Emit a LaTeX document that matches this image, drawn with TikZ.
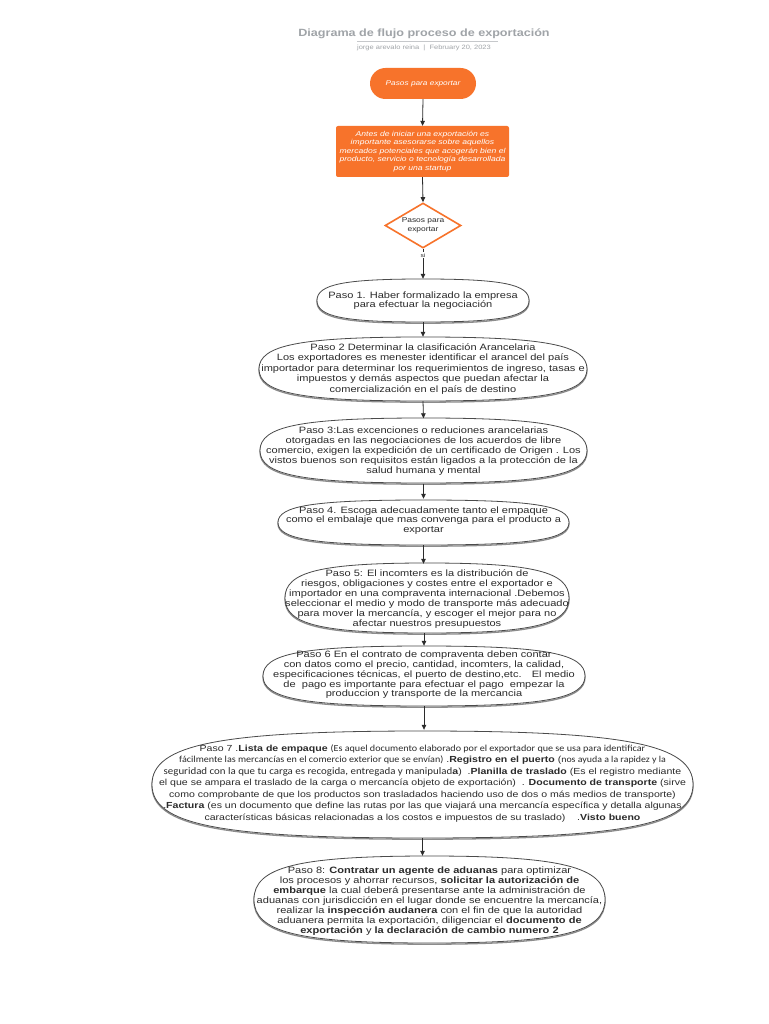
\documentclass[tikz,border=0pt]{standalone}
\usepackage{fontspec}
\setmainfont{Liberation Sans}[FakeStretch=1.2]
\newfontfamily\smallfam{Carlito}[FakeStretch=1.1]
\usetikzlibrary{shapes.geometric,arrows.meta}
\definecolor{org}{HTML}{F7732B}
\definecolor{ttl}{HTML}{A0A4A8}
\definecolor{ink}{HTML}{2B2B2B}
% full ellipse-like outline: #1 options, #2 centre, #3 half width, #4 half height
\newcommand\stepoutline[4]{%
  \path[#1,shift={#2}] ({#3},0) .. controls ({#3},{0.75*#4}) and ({0.75*#3},{#4}) .. (0,{#4})
    .. controls ({-0.75*#3},{#4}) and ({-#3},{0.75*#4}) .. ({-#3},0)
    .. controls ({-#3},{-0.75*#4}) and ({-0.75*#3},{-#4}) .. (0,{-#4})
    .. controls ({0.75*#3},{-#4}) and ({#3},{-0.75*#4}) .. cycle;}
\newcommand\stepshape[3]{%
  \stepoutline{draw=black!45, line width=1.3pt, yshift=-1.2pt}{#1}{#2}{#3}%
  \stepoutline{draw=ink!85, line width=0.8pt, fill=white}{#1}{#2}{#3}}
\begin{document}
\begin{tikzpicture}[x=1pt,y=-1pt,
  txt/.style={align=center, text=ink, inner sep=0pt, font=\fontsize{9.2}{10.1}\selectfont},
  conn/.style={draw=ink, line width=0.8pt, -{Triangle[length=5pt,width=4.5pt]}}
]
\useasboundingbox[fill=white] (0,0) rectangle (768,1024);

% title
\node[font=\bfseries\fontsize{10.5}{12}\selectfont, text=ttl] (title) at (424,34) {Diagrama de flujo proceso de exportación};
\draw[ttl!60, line width=0.5pt] (357,41.5) -- (498,41.5);
\node[font=\fontsize{6.25}{7}\selectfont, text=ttl] (sub) at (424,47.5) {jorge arevalo reina \ | \ February 20, 2023};

% start
\node[fill=org, rounded corners=15.5pt, minimum width=106pt, minimum height=31pt, inner sep=0pt,
  text=white, font=\itshape\fontsize{6.9}{8.5}\selectfont] (start) at (423,83.5) {Pasos para exportar};

% box
\node[fill=org, rounded corners=2pt, minimum width=173pt, minimum height=51pt, inner sep=0pt,
  text=white, align=center, font=\itshape\fontsize{7.15}{8.6}\selectfont] (box) at (422.5,151.5)
  {Antes de iniciar una exportación es\\ importante asesorarse sobre aquellos\\ mercados potenciales que acogerán bien el\\ producto, servicio o tecnología desarrollada\\ por una startup};

% decision
\node[diamond, draw=org, line width=1.6pt, fill=white, minimum width=76pt, minimum height=45pt, inner sep=0pt] (dec) at (423,225.5) {};
\node[align=center, text=ink, inner sep=0pt, font=\fontsize{7}{9.5}\selectfont] (dect) at (dec) {Pasos para\\exportar};

% steps
\stepshape{(423,300.5)}{106}{21.5}
\node[txt, font=\fontsize{9.2}{9.4}\selectfont, minimum width=212pt, minimum height=43pt] (p1) at (423,300.5) {Paso 1. Haber formalizado la empresa\\para efectuar la negociación};

\stepshape{(423,369)}{164}{32}
\node[txt, font=\fontsize{9.2}{10.5}\selectfont, minimum width=328pt, minimum height=64pt] (p2) at (423,369) {Paso 2 Determinar la clasificación Arancelaria\\ Los exportadores es menester identificar el arancel del país\\ importador para determinar los requerimientos de ingreso, tasas e\\ impuestos y demás aspectos que puedan afectar la\\ comercialización en el país de destino};

\stepshape{(423.5,450.5)}{163.5}{32.5}
\node[txt, minimum width=327pt, minimum height=65pt] (p3) at (423.5,451) {Paso 3:Las excenciones o reduciones arancelarias\\ otorgadas en las negociaciones de los acuerdos de libre\\ comercio, exigen la expedición de un certificado de Origen . Los\\ vistos buenos son requisitos están ligados a la protección de la\\ salud humana y mental};

\stepshape{(423.5,522.5)}{145.5}{22.5}
\node[txt, font=\fontsize{9.2}{9.8}\selectfont, minimum width=291pt, minimum height=45pt] (p4) at (423.5,520.5) {Paso 4. Escoga adecuadamente tanto el empaque\\ como el embalaje que mas convenga para el producto a\\ exportar};

\stepshape{(427,598)}{142}{35}
\node[txt, minimum width=284pt, minimum height=70pt] (p5) at (427,599) {Paso 5: El incomters es la distribución de\\ riesgos, obligaciones y costes entre el exportador e\\ importador en una compraventa internacional .Debemos\\ seleccionar el medio y modo de transporte más adecuado\\ para mover la mercancía, y escoger el mejor para no\\ afectar nuestros presupuestos};

\stepshape{(424,676)}{161}{30}
\node[txt, font=\fontsize{9.2}{9.7}\selectfont, minimum width=322pt, minimum height=60pt] (p6) at (424,675) {Paso 6 En el contrato de compraventa deben contar\\ con datos como el precio, cantidad, incomters, la calidad,\\ especificaciones técnicas, el puerto de destino,etc. \ \ El medio\\ de \ pago es importante para efectuar el pago \ empezar la\\ produccion y transporte de la mercancia};

\stepshape{(422.5,784.5)}{270.5}{53.5}
\node[txt, font=\fontsize{8.8}{11.5}\selectfont, minimum width=541pt, minimum height=107pt] (p7) at (422.5,783.5) {Paso 7 .\textbf{Lista de empaque} {\smallfam\fontsize{9.2}{11.5}\selectfont (Es aquel documento elaborado por el exportador que se usa para identificar}\\
{\smallfam\fontsize{9.2}{11.5}\selectfont fácilmente las mercancías en el comercio exterior que se envían)} .\textbf{Registro en el puerto} ({\smallfam\fontsize{9}{11.5}\selectfont nos ayuda a la rapidez y la}\\
{\smallfam\fontsize{9.9}{11.5}\selectfont seguridad con la que tu carga es recogida, entregada y manipulad}\textbf{a}) \ .\textbf{Planilla de traslado} (Es el registro mediante\\
el que se ampara el traslado de la carga o mercancía objeto de exportación) \ . \textbf{Documento de transporte} (sirve\\
como comprobante de que los productos son trasladados haciendo uso de dos o más medios de transporte)\\
.\textbf{Factura} (es un documento que define las rutas por las que viajará una mercancía específica y detalla algunas\\
características básicas relacionadas a los costos e impuestos de su traslado) \quad .\textbf{Visto bueno}};

\stepshape{(429.5,899.5)}{175.5}{43.5}
\node[txt, font=\fontsize{9.2}{10}\selectfont, minimum width=351pt, minimum height=87pt] (p8) at (429.5,901) {Paso 8: \textbf{Contratar un agente de aduanas} para optimizar\\ los procesos y ahorrar recursos, \textbf{solicitar la autorización de}\\ \textbf{embarque} la cual deberá presentarse ante la administración de\\ aduanas con jurisdicción en el lugar donde se encuentre la mercancía,\\ realizar la \textbf{inspección audanera} con el fin de que la autoridad\\ aduanera permita la exportación, diligenciar el \textbf{documento de}\\ \textbf{exportación} y \textbf{la declaración de cambio numero 2}};

% connectors
\draw[conn] (start.south) -- (box.north);
\draw[conn] (box.south) -- (dec.north);
\draw[conn] (dec.south) -- node[pos=0.22, fill=white, inner sep=1pt, text=ink, font=\fontsize{5.5}{7}\selectfont] (si) {si} (p1.north);
\draw[conn] (p1.south) -- (p2.north);
\draw[conn] (p2.south) -- (p3.north);
\draw[conn] (p3.south) -- ([yshift=-1pt]p4.north);
\draw[conn] ([yshift=-2pt]p4.south) -- (p5.north -| p4.south);
\draw[conn] ([yshift=1pt]p5.south -| p6.north) -- ([yshift=-1pt]p6.north);
\draw[conn] ([yshift=-1pt]p6.south) -- (p7.north -| p6.south);
\draw[conn] ([yshift=-1pt]p7.south) -- ([yshift=1.5pt]p8.north -| p7.south);
\end{tikzpicture}
\end{document}
